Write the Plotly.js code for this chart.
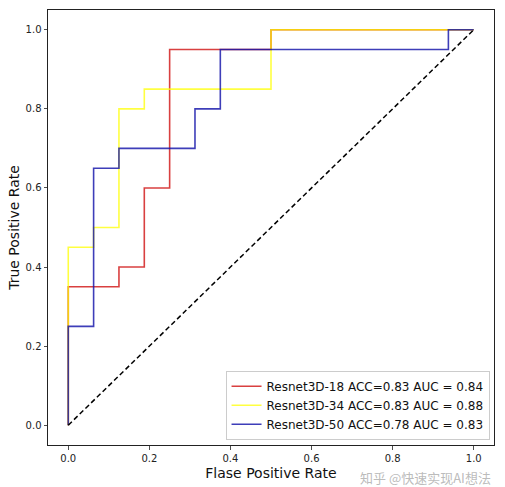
<!DOCTYPE html>
<html><head><meta charset="utf-8">
<script src="https://cdn.plot.ly/plotly-3.0.1.min.js"></script>
<style>html,body{margin:0;padding:0;background:#fff;}#chart{width:505px;height:487px;}</style>
</head><body><div id="chart"></div>
<script>
var fpr18 = [0, 0, 0.125, 0.125, 0.1875, 0.1875, 0.25, 0.25, 0.5, 0.5, 1.0];
var tpr18 = [0, 0.35, 0.35, 0.4, 0.4, 0.6, 0.6, 0.95, 0.95, 1.0, 1.0];
var fpr34 = [0, 0, 0.0625, 0.0625, 0.125, 0.125, 0.1875, 0.1875, 0.5, 0.5, 1.0];
var tpr34 = [0, 0.45, 0.45, 0.5, 0.5, 0.8, 0.8, 0.85, 0.85, 1.0, 1.0];
var fpr50 = [0, 0, 0.0625, 0.0625, 0.125, 0.125, 0.3125, 0.3125, 0.375, 0.375, 0.9375, 0.9375, 1.0];
var tpr50 = [0, 0.25, 0.25, 0.65, 0.65, 0.7, 0.7, 0.8, 0.8, 0.95, 0.95, 1.0, 1.0];
var names = ['Resnet3D-18 ACC=0.83 AUC = 0.84', 'Resnet3D-34 ACC=0.83 AUC = 0.88', 'Resnet3D-50 ACC=0.78 AUC = 0.83'];
var diagX = [0, 1];
var diagY = [0, 1];
var tickVals = [0, 0.2, 0.4, 0.6, 0.8, 1.0];
var tickText = ['0.0', '0.2', '0.4', '0.6', '0.8', '1.0'];

var font = 'DejaVu Sans, sans-serif';
var traces = [
  {x: fpr18, y: tpr18, mode: 'lines', name: names[0], line: {color: 'rgba(210,30,30,0.85)', width: 1.6}},
  {x: fpr34, y: tpr34, mode: 'lines', name: names[1], line: {color: 'rgba(255,255,0,0.75)', width: 1.6}},
  {x: fpr50, y: tpr50, mode: 'lines', name: names[2], line: {color: 'rgba(20,20,170,0.82)', width: 1.6}},
  {x: diagX, y: diagY, mode: 'lines', showlegend: false, line: {color: 'black', width: 1.5, dash: '5px,3px'}}
];
var axisCommon = {
  showgrid: false, zeroline: false, showline: true, mirror: true, linecolor: '#222', linewidth: 1,
  ticks: 'outside', ticklen: 3.5, tickwidth: 0.8, tickcolor: '#222',
  tickvals: tickVals, ticktext: tickText, tickfont: {family: font, size: 10, color: '#222'}
};
var layout = {
  width: 505, height: 487,
  margin: {l: 48, r: 11, t: 10, b: 42},
  paper_bgcolor: '#fff', plot_bgcolor: '#fff',
  font: {family: font},
  xaxis: Object.assign({}, axisCommon, {range: [-0.05, 1.05],
    title: {text: 'Flase Positive Rate', font: {family: font, size: 14, color: '#111'}, standoff: 5}}),
  yaxis: Object.assign({}, axisCommon, {range: [-0.05, 1.05],
    title: {text: 'True Positive Rate', font: {family: font, size: 14, color: '#111'}, standoff: 2}}),
  legend: {x: 0.99, y: 0.012, xanchor: 'right', yanchor: 'bottom', bgcolor: 'rgba(255,255,255,0.8)',
    bordercolor: '#ccc', borderwidth: 1, font: {family: font, size: 12, color: '#111'}, tracegroupgap: 0},
  annotations: [{xref: 'paper', yref: 'paper', x: 0.998, y: -0.074, xanchor: 'right', yanchor: 'middle',
    text: '知乎 @快速实现AI想法', showarrow: false,
    font: {family: 'Noto Sans CJK SC, sans-serif', size: 13, color: 'rgba(170,170,170,0.8)'}}]
};
Plotly.newPlot('chart', traces, layout, {displayModeBar: false, staticPlot: true});
</script></body></html>
